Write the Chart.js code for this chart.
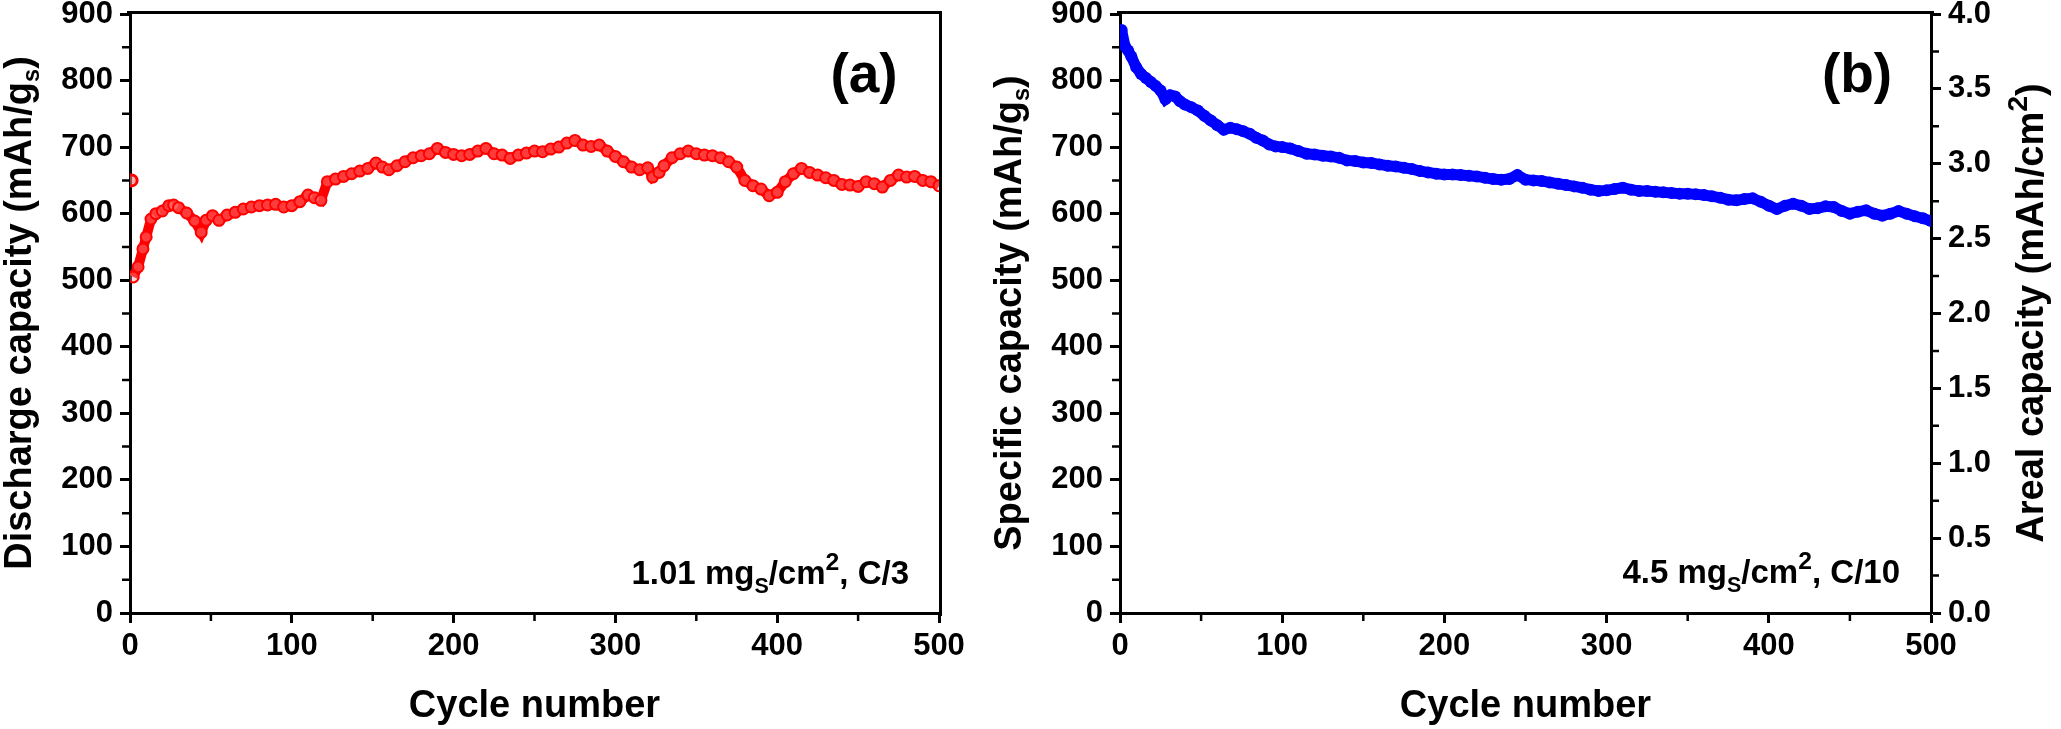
<!DOCTYPE html>
<html>
<head>
<meta charset="utf-8">
<script src="https://cdn.jsdelivr.net/npm/chart.js@4"></script>
<style>
  html, body { margin: 0; padding: 0; background: #fff; }
  #wrap { position: relative; width: 2061px; height: 729px; overflow: hidden; }
  #chartA { position: absolute; left: 0; top: 0; }
  #chartB { position: absolute; left: 960px; top: 0; }
</style>
</head>
<body>
<div id="wrap">
  <canvas id="chartA" width="1000" height="729"></canvas>
  <canvas id="chartB" width="1101" height="729"></canvas>
</div>
<script>
// (a) 1.01 mg/cm2, C/3 - discharge capacity
const firstCycleA = [1];
const firstCapA = [650];
const cyclesA = [2, 5, 8, 10, 13, 16, 20, 24, 27, 30, 35, 40, 44, 47, 51, 55, 60, 65, 70, 75,
  80, 85, 90, 95, 100, 105, 110, 114, 118, 122, 127, 132, 137, 142, 147, 152, 156, 160, 165, 170,
  175, 180, 185, 190, 195, 200, 205, 210, 215, 220, 225, 230, 235, 240, 245, 250, 255, 260, 265, 270,
  275, 280, 285, 290, 295, 300, 305, 310, 315, 320, 323, 327, 330, 335, 340, 345, 350, 355, 360, 365,
  370, 375, 380, 385, 390, 395, 400, 405, 410, 415, 420, 425, 430, 435, 440, 445, 450, 455, 460, 465,
  470, 475, 480, 485, 490, 495, 500];
const capacityA = [505, 520, 547, 565, 592, 600, 604, 612, 613, 609, 601, 589, 572, 590, 597, 590, 598, 602, 607, 610,
  612, 613, 614, 610, 612, 618, 628, 624, 620, 648, 652, 656, 660, 664, 668, 676, 670, 666, 672, 678,
  684, 687, 690, 698, 692, 689, 687, 689, 694, 698, 690, 688, 683, 688, 691, 694, 693, 697, 700, 706,
  710, 703, 701, 703, 694, 686, 678, 670, 666, 669, 655, 662, 672, 684, 690, 694, 690, 688, 687, 684,
  678, 670, 650, 642, 637, 627, 632, 648, 660, 668, 662, 658, 654, 650, 644, 643, 641, 648, 645, 640,
  650, 658, 655, 656, 650, 648, 642];

// (b) 4.5 mg/cm2, C/10 - specific capacity
const cyclesB = [1, 3, 5, 7, 10, 13, 16, 19, 22, 25, 28, 31, 34, 37, 40, 44, 48, 52, 56, 60,
  64, 68, 72, 76, 80, 84, 88, 92, 96, 100, 105, 110, 115, 120, 125, 130, 135, 140, 145, 150,
  155, 160, 165, 170, 175, 180, 185, 190, 195, 200, 205, 210, 215, 220, 225, 230, 235, 240, 245, 250,
  255, 260, 265, 270, 275, 280, 285, 290, 295, 300, 305, 310, 315, 320, 325, 330, 335, 340, 345, 350,
  355, 360, 365, 370, 375, 380, 385, 390, 395, 400, 405, 410, 415, 420, 425, 430, 435, 440, 445, 450,
  455, 460, 465, 470, 475, 480, 485, 490, 495, 500];
const capacityB = [876, 852, 845, 836, 820, 810, 804, 798, 792, 785, 772, 778, 776, 769, 764, 760, 755, 747, 740, 733,
  726, 729, 727, 724, 720, 714, 710, 704, 701, 700, 698, 694, 690, 689, 687, 686, 684, 680, 679, 677,
  676, 674, 672, 671, 669, 667, 664, 662, 660, 659, 659, 658, 657, 656, 654, 652, 651, 652, 658, 651,
  650, 649, 647, 645, 643, 641, 639, 636, 634, 635, 637, 639, 636, 634, 634, 633, 632, 631, 630, 630,
  629, 628, 626, 624, 621, 620, 622, 623, 618, 612, 607, 612, 615, 612, 607, 608, 611, 610, 604, 600,
  603, 605, 600, 597, 600, 604, 600, 596, 593, 589];

// axis ranges / tick steps
const cycleRange = [0, 500, 100];
const specRange = [0, 900, 100];
const arealRange = [0, 4, 0.5];

const FONT = "'Liberation Sans', Arial, sans-serif";
const TICK_SIZE = 31;
const toPoints = (xs, ys) => xs.map((x, i) => ({ x, y: ys[i] }));

Chart.defaults.font.family = FONT;
Chart.defaults.color = '#000';

function drawRich(ctx, parts, x, y, o) {
  const size = o.size;
  ctx.save();
  ctx.translate(x, y);
  if (o.rotate) ctx.rotate(o.rotate);
  const segs = parts.map(p => {
    const s = typeof p === 'string' ? { t: p } : p;
    const fs = size * (s.scale || 1);
    ctx.font = `bold ${fs}px ${FONT}`;
    return { ...s, fs, w: ctx.measureText(s.t).width };
  });
  const total = segs.reduce((n, s) => n + s.w, 0);
  let cx = o.align === 'right' ? -total : o.align === 'center' ? -total / 2 : 0;
  ctx.fillStyle = '#000';
  ctx.textBaseline = 'alphabetic';
  ctx.textAlign = 'left';
  segs.forEach(s => {
    ctx.font = `bold ${s.fs}px ${FONT}`;
    ctx.fillText(s.t, cx, (s.dy || 0) * size);
    cx += s.w;
  });
  ctx.restore();
}

// box frame, minor ticks and the rich text labels
const extras = {
  id: 'extras',
  afterDraw(chart, args, opts) {
    const { ctx, chartArea: a } = chart;
    ctx.save();
    ctx.strokeStyle = '#000';
    ctx.lineWidth = 3;
    ctx.beginPath();
    ctx.moveTo(a.left - 3, a.top - 1.5);
    ctx.lineTo(a.right + 3, a.top - 1.5);
    if (opts.rightFrame) {
      ctx.moveTo(a.right + 1.5, a.top - 3);
      ctx.lineTo(a.right + 1.5, a.bottom + 3);
    }
    ctx.stroke();

    ctx.lineWidth = 2.5;
    ctx.beginPath();
    opts.minor.forEach(id => {
      const sc = chart.scales[id];
      const t = sc.ticks;
      for (let i = 0; i < t.length - 1; i++) {
        const p = sc.getPixelForValue((t[i].value + t[i + 1].value) / 2);
        if (sc.position === 'bottom') { ctx.moveTo(p, a.bottom); ctx.lineTo(p, a.bottom + 8); }
        else if (sc.position === 'left') { ctx.moveTo(a.left, p); ctx.lineTo(a.left - 8, p); }
        else { ctx.moveTo(a.right, p); ctx.lineTo(a.right + 8, p); }
      }
    });
    ctx.stroke();
    ctx.restore();

    opts.labels.forEach(l => drawRich(ctx, l.parts, l.x, l.y, l));
  }
};

function cycleAxis() {
  return {
    type: 'linear', position: 'bottom',
    min: cycleRange[0], max: cycleRange[1],
    ticks: { stepSize: cycleRange[2], padding: 5, maxRotation: 0, color: '#000',
      font: { size: TICK_SIZE, weight: 'bold', lineHeight: 1.2 } },
    grid: { drawOnChartArea: false, tickLength: 10, tickWidth: 3, tickColor: '#000' },
    border: { color: '#000', width: 3 },
    title: { display: true, text: 'Cycle number', color: '#000', padding: 0,
      font: { size: 38, weight: 'bold', lineHeight: 1.2 } },
    afterFit(s) { s.height = 116; s.paddingLeft = 0; s.paddingRight = 0; }
  };
}

function valueAxis(range, position, width, fmt) {
  return {
    type: 'linear', position,
    min: range[0], max: range[1],
    ticks: { stepSize: range[2], padding: 7, color: '#000', callback: fmt,
      font: { size: TICK_SIZE, weight: 'bold' } },
    grid: { drawOnChartArea: false, tickLength: 10, tickWidth: 3, tickColor: '#000' },
    border: { color: '#000', width: 3 },
    afterFit(s) { s.width = width; s.paddingTop = 0; s.paddingBottom = 0; }
  };
}

const baseOptions = {
  responsive: false,
  devicePixelRatio: 1,
  animation: false,
  events: [],
  plugins: { legend: { display: false }, tooltip: { enabled: false } }
};

new Chart(document.getElementById('chartA'), {
  type: 'scatter',
  data: {
    datasets: [
      {
        data: toPoints(firstCycleA, firstCapA),
        pointRadius: 5.5, pointBorderWidth: 3,
        pointBorderColor: '#ff0000', pointBackgroundColor: 'rgba(255,120,120,0.6)'
      },
      {
        data: toPoints(cyclesA, capacityA),
        showLine: true, borderColor: '#ff0000', borderWidth: 10,
        pointRadius: 5.5, pointBorderWidth: 2,
        pointBorderColor: '#ff0000', pointBackgroundColor: 'rgba(255,150,150,0.4)'
      }
    ]
  },
  options: {
    ...baseOptions,
    layout: { padding: { top: 14, right: 61, left: 0, bottom: 0 } },
    scales: {
      x: cycleAxis(),
      y: valueAxis(specRange, 'left', 130)
    },
    plugins: {
      ...baseOptions.plugins,
      extras: {
        rightFrame: true,
        minor: ['x', 'y'],
        labels: [
          { parts: ['Discharge capacity (mAh/g', { t: 's', scale: 0.62, dy: 0.22 }, ')'],
            x: 31, y: 313, size: 38, align: 'center', rotate: -Math.PI / 2 },
          { parts: ['(a)'], x: 864, y: 92, size: 55, align: 'center' },
          { parts: ['1.01 mg', { t: 'S', scale: 0.65, dy: 0.28 }, '/cm', { t: '2', scale: 0.75, dy: -0.42 }, ', C/3'],
            x: 909, y: 584, size: 33, align: 'right' }
        ]
      }
    }
  },
  plugins: [extras]
});

new Chart(document.getElementById('chartB'), {
  type: 'scatter',
  data: {
    datasets: [
      {
        data: toPoints(cyclesB, capacityB),
        showLine: true, borderColor: '#0000ff', borderWidth: 11,
        pointRadius: 6, pointBorderWidth: 0,
        pointBackgroundColor: '#0000ff'
      }
    ]
  },
  options: {
    ...baseOptions,
    layout: { padding: { top: 14, right: 0, left: 0, bottom: 0 } },
    scales: {
      x: cycleAxis(),
      y: valueAxis(specRange, 'left', 160),
      y1: valueAxis(arealRange, 'right', 130, v => v.toFixed(1))
    },
    plugins: {
      ...baseOptions.plugins,
      extras: {
        rightFrame: false,
        minor: ['x', 'y', 'y1'],
        labels: [
          { parts: ['Specific capacity (mAh/g', { t: 's', scale: 0.62, dy: 0.22 }, ')'],
            x: 61, y: 313, size: 38, align: 'center', rotate: -Math.PI / 2 },
          { parts: ['Areal capacity (mAh/cm', { t: '2', scale: 0.75, dy: -0.42 }, ')'],
            x: 1083, y: 313, size: 38, align: 'center', rotate: -Math.PI / 2 },
          { parts: ['(b)'], x: 897, y: 92, size: 55, align: 'center' },
          { parts: ['4.5 mg', { t: 'S', scale: 0.65, dy: 0.28 }, '/cm', { t: '2', scale: 0.75, dy: -0.42 }, ', C/10'],
            x: 940, y: 583, size: 33, align: 'right' }
        ]
      }
    }
  },
  plugins: [extras]
});
</script>
</body>
</html>
